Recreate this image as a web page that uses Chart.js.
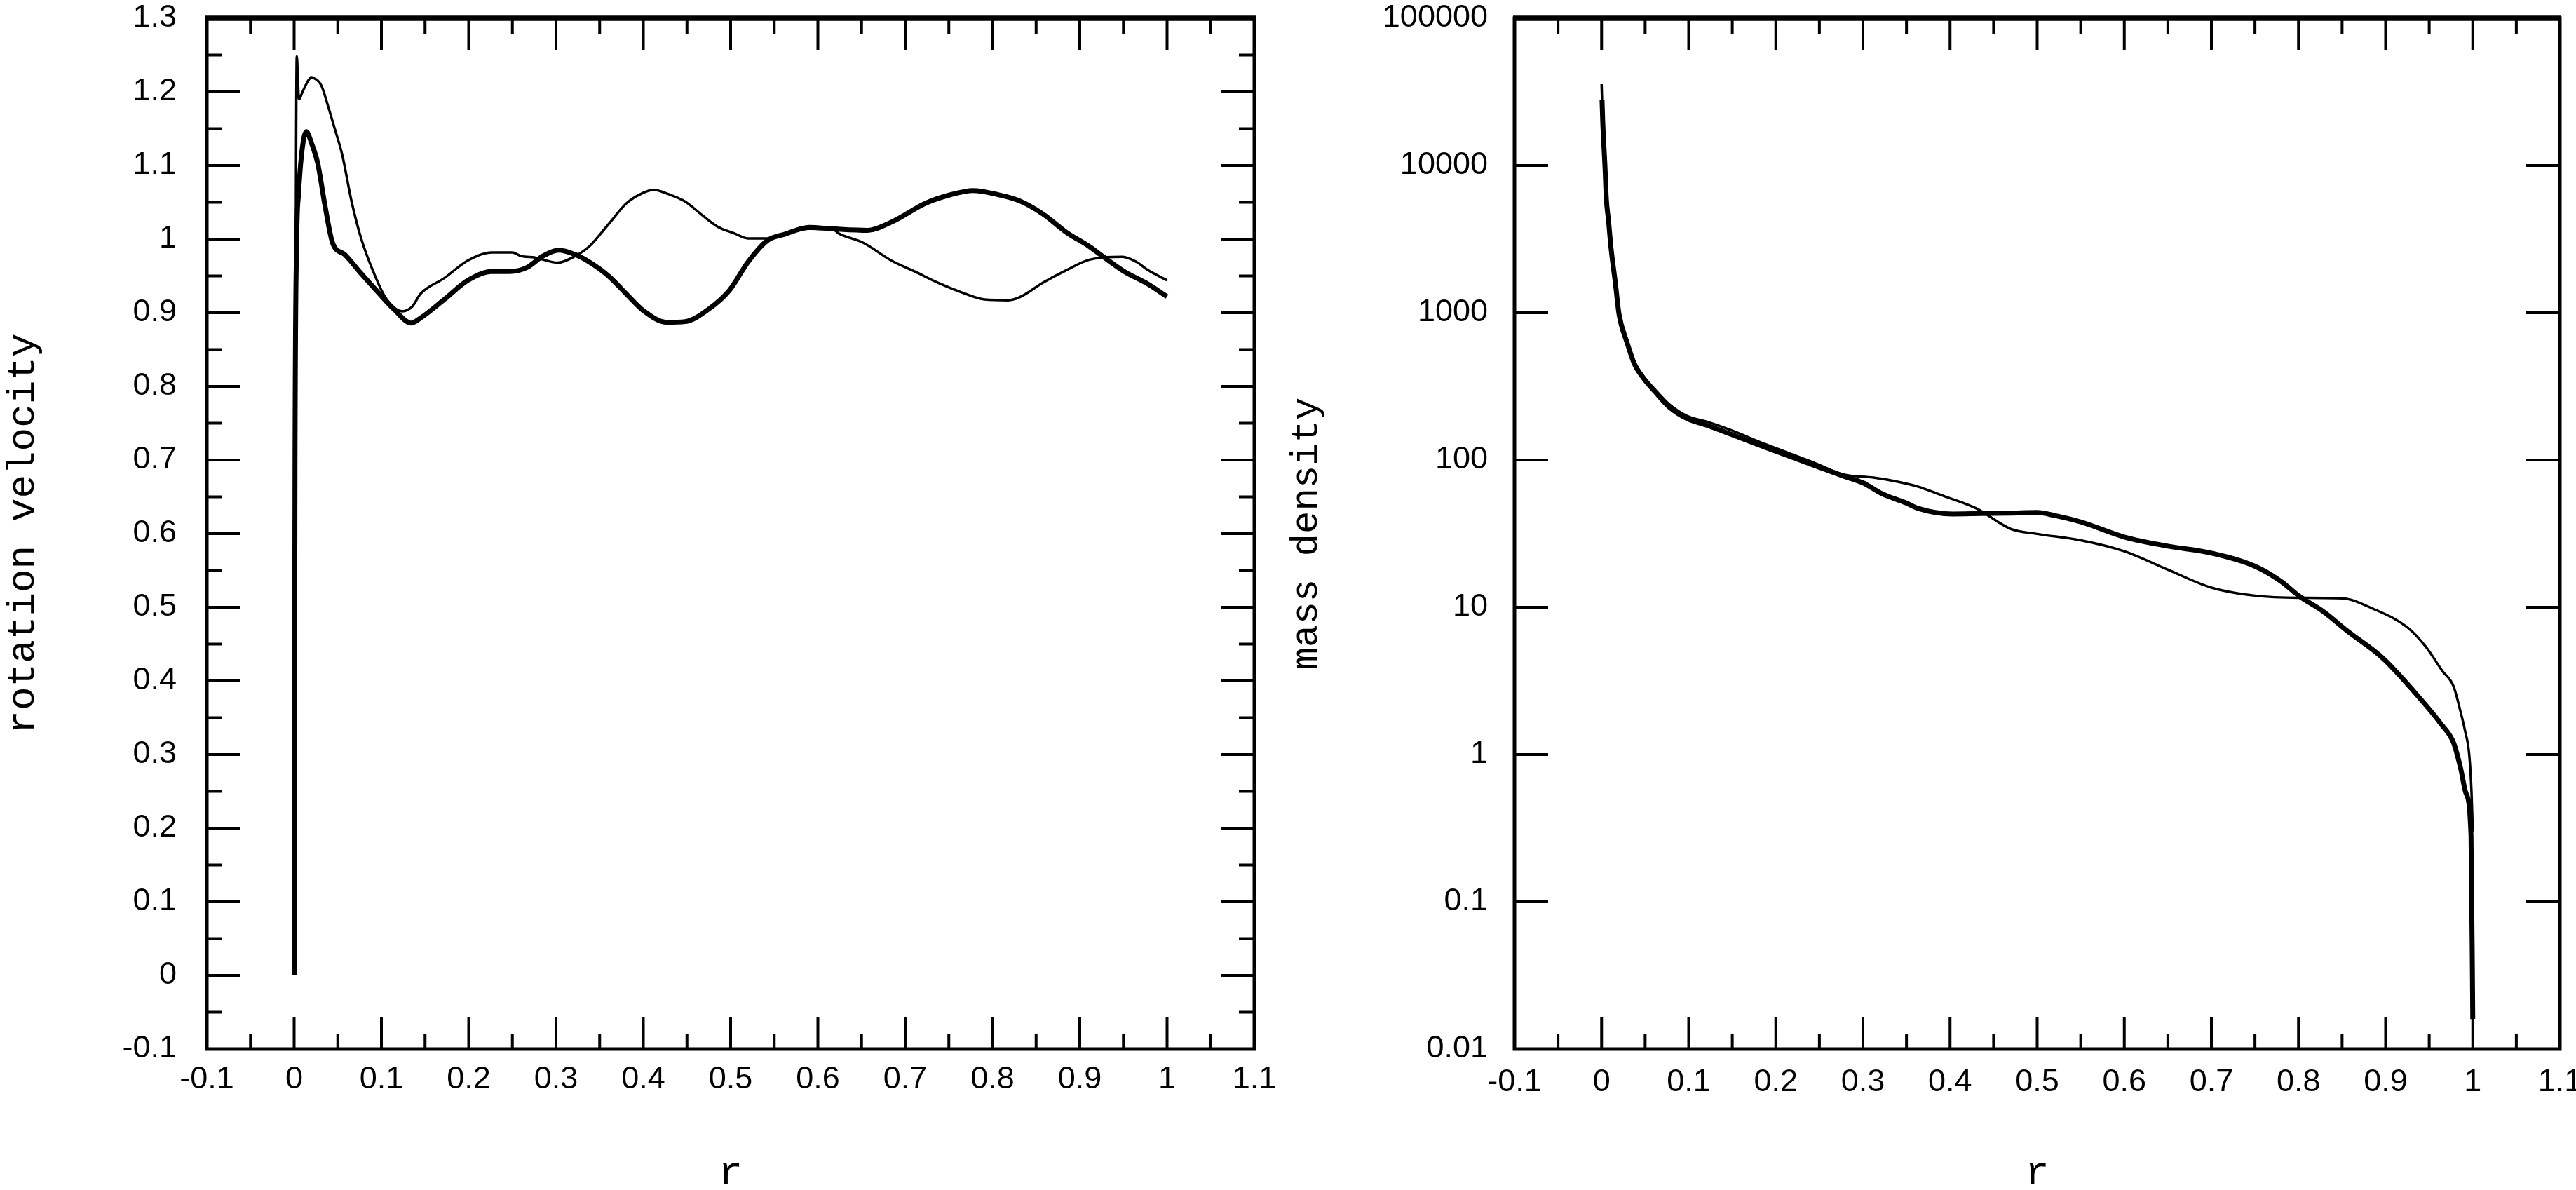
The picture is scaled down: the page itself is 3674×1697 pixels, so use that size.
<!DOCTYPE html>
<html>
<head>
<meta charset="utf-8">
<title>rotation velocity / mass density</title>
<script src="https://cdn.jsdelivr.net/npm/chart.js@4.4.1/dist/chart.umd.min.js"></script>
<style>
  html, body { margin: 0; padding: 0; background: #fff; }
  .panel { position: absolute; top: 0; width: 1837px; height: 1697px; }
  #left { left: 0; }
  #right { left: 1837px; }
</style>
</head>
<body>
<div class="panel" id="left"><canvas id="velocity" width="1837" height="1697"></canvas></div>
<div class="panel" id="right"><canvas id="density" width="1837" height="1697"></canvas></div>
<script>
// shared r axis
const xTicks = [-0.1, 0, 0.1, 0.2, 0.3, 0.4, 0.5, 0.6, 0.7, 0.8, 0.9, 1, 1.1];
const xTickLabels = ['-0.1', '0', '0.1', '0.2', '0.3', '0.4', '0.5', '0.6', '0.7', '0.8', '0.9', '1', '1.1'];
const xMinorTicks = [-0.05, 0.05, 0.15, 0.25, 0.35, 0.45, 0.55, 0.65, 0.75, 0.85, 0.95, 1.05];

// left panel axis
const velTicks = [-0.1, 0, 0.1, 0.2, 0.3, 0.4, 0.5, 0.6, 0.7, 0.8, 0.9, 1, 1.1, 1.2, 1.3];
const velTickLabels = ['-0.1', '0', '0.1', '0.2', '0.3', '0.4', '0.5', '0.6', '0.7', '0.8', '0.9', '1', '1.1', '1.2', '1.3'];
const velMinorTicks = [-0.05, 0.05, 0.15, 0.25, 0.35, 0.45, 0.55, 0.65, 0.75, 0.85, 0.95, 1.05, 1.15, 1.25];

// right panel axis
const denTicks = [0.01, 0.1, 1, 10, 100, 1000, 10000, 100000];
const denTickLabels = ['0.01', '0.1', '1', '10', '100', '1000', '10000', '100000'];

// rotation velocity, thin curve
const rVelThin = [0, 0.003, 0.0056, 0.0096, 0.0196, 0.031, 0.039, 0.047, 0.055, 0.066, 0.077, 0.091, 0.105, 0.124, 0.135,
  0.145, 0.172, 0.199, 0.226, 0.25, 0.26, 0.276, 0.302, 0.322, 0.338, 0.36, 0.381, 0.40, 0.412, 0.429, 0.448, 0.467,
  0.485, 0.504, 0.52, 0.542, 0.56, 0.59, 0.617, 0.625, 0.652, 0.684, 0.711, 0.737, 0.764, 0.791, 0.818, 0.831, 0.858,
  0.885, 0.911, 0.949, 0.965, 0.978, 1.0];
const velThin = [0, 1.248, 1.19, 1.20, 1.219, 1.209, 1.180, 1.148, 1.115, 1.05, 1.00, 0.955, 0.92, 0.902, 0.908,
  0.926, 0.947, 0.971, 0.982, 0.982, 0.977, 0.975, 0.968, 0.977, 0.990, 1.020, 1.049, 1.063, 1.067, 1.061, 1.051, 1.033,
  1.017, 1.008, 1.001, 1.001, 1.006, 1.014, 1.013, 1.007, 0.995, 0.971, 0.956, 0.941, 0.928, 0.918, 0.917, 0.921, 0.941,
  0.958, 0.972, 0.976, 0.969, 0.958, 0.944];

// rotation velocity, thick curve
const rVelThick = [0, 0.001, 0.003, 0.005, 0.009, 0.014, 0.020, 0.027, 0.036, 0.044, 0.058, 0.077, 0.096, 0.115, 0.134,
  0.145, 0.172, 0.199, 0.226, 0.247, 0.266, 0.285, 0.303, 0.322, 0.338, 0.36, 0.381, 0.40, 0.427, 0.448, 0.475, 0.499,
  0.52, 0.542, 0.563, 0.59, 0.617, 0.657, 0.684, 0.724, 0.751, 0.778, 0.804, 0.831, 0.858, 0.885, 0.911, 0.927, 0.951,
  0.978, 1.0];
const velThick = [0, 0.70, 1.0, 1.06, 1.12, 1.146, 1.13, 1.103, 1.041, 0.995, 0.979, 0.953, 0.928, 0.904, 0.886,
  0.893, 0.918, 0.944, 0.956, 0.956, 0.961, 0.977, 0.985, 0.979, 0.969, 0.950, 0.925, 0.903, 0.887, 0.888, 0.905, 0.931,
  0.969, 0.998, 1.007, 1.016, 1.014, 1.012, 1.023, 1.049, 1.060, 1.066, 1.061, 1.052, 1.034, 1.009, 0.990, 0.976, 0.956,
  0.939, 0.922];

// mass density, thin curve
const rDenThin = [0, 0.0013, 0.004, 0.0054, 0.008, 0.0107, 0.016, 0.020, 0.0295, 0.0376, 0.048, 0.062, 0.078, 0.099,
  0.121, 0.148, 0.188, 0.242, 0.277, 0.312, 0.336, 0.363, 0.389, 0.43, 0.47, 0.5, 0.55, 0.6, 0.65, 0.7, 0.75, 0.8, 0.85,
  0.885, 0.925, 0.946, 0.965, 0.978, 0.986, 0.991, 0.996, 0.9986, 1.0];
const denThin = [35700, 20000, 10500, 6400, 4400, 2950, 1620, 1030, 650, 470, 372, 298, 238, 198,
  182, 160, 128, 97, 80, 76, 72, 66, 58, 47, 34, 31.5, 28.5, 24, 18, 13.6, 12, 11.6, 11.5,
  9.8, 7.3, 5.4, 3.7, 2.9, 1.95, 1.46, 0.99, 0.55, 0.3];

// mass density, thick curve
const rDenThick = [0.0005, 0.0013, 0.004, 0.0054, 0.008, 0.0107, 0.016, 0.020, 0.0295, 0.0376, 0.048, 0.062, 0.078,
  0.099, 0.121, 0.148, 0.188, 0.242, 0.277, 0.3, 0.322, 0.35, 0.363, 0.403, 0.435, 0.47, 0.5, 0.52, 0.55, 0.6, 0.65, 0.7,
  0.75, 0.78, 0.8, 0.829, 0.856, 0.897, 0.937, 0.964, 0.978, 0.986, 0.992, 0.998, 1.0];
const denThick = [28000, 20000, 9500, 6000, 4200, 2800, 1560, 980, 620, 450, 360, 288, 228,
  190, 172, 150, 122, 93, 78, 70, 59, 51, 47, 43, 43.3, 43.6, 44, 42, 38, 30, 26, 23.3,
  19, 15, 12, 9.3, 6.9, 4.5, 2.5, 1.6, 1.2, 0.81, 0.55, 0.28, 0.016];

const H = 1697;
const PLOT_TOP = 26, PLOT_BOTTOM = 1496;
const tickFont = { family: 'Liberation Sans', size: 45 };

function points(xs, ys) {
  return xs.map((x, i) => ({ x: x, y: ys[i] }));
}

function curve(data, width) {
  return {
    data: data,
    showLine: true,
    borderColor: '#000',
    borderWidth: width,
    pointRadius: 0,
    cubicInterpolationMode: 'monotone',
    borderJoinStyle: 'round'
  };
}

// frame plus inward ticks on all four sides
const frameTicks = {
  id: 'frameTicks',
  afterDatasetsDraw(chart, args, opts) {
    const { ctx, chartArea: a, scales: { x, y } } = chart;
    ctx.save();
    ctx.strokeStyle = '#000';
    ctx.lineWidth = 4;
    const marks = [[xTicks, 45], [xMinorTicks, 22]];
    marks.forEach(([vals, len]) => {
      vals.forEach(v => {
        const px = x.getPixelForValue(v);
        ctx.beginPath();
        ctx.moveTo(px, a.bottom); ctx.lineTo(px, a.bottom - len);
        ctx.moveTo(px, a.top); ctx.lineTo(px, a.top + len);
        ctx.stroke();
      });
    });
    [[opts.yMajor, 48], [opts.yMinor || [], 22]].forEach(([vals, len]) => {
      vals.forEach(v => {
        const py = y.getPixelForValue(v);
        ctx.beginPath();
        ctx.moveTo(a.left, py); ctx.lineTo(a.left + len, py);
        ctx.moveTo(a.right, py); ctx.lineTo(a.right - len, py);
        ctx.stroke();
      });
    });
    ctx.lineWidth = 5;
    ctx.strokeRect(a.left, a.top, a.right - a.left, a.bottom - a.top);
    ctx.lineWidth = 7.5;
    ctx.beginPath();
    ctx.moveTo(a.left - 2, a.top); ctx.lineTo(a.right + 2, a.top);
    ctx.stroke();
    ctx.restore();
  }
};

function noPad(s) {
  s.paddingLeft = 0; s.paddingRight = 0; s.paddingTop = 0; s.paddingBottom = 0;
}

function xScale(labelPad) {
  return {
    type: 'linear',
    min: -0.1,
    max: 1.1,
    afterBuildTicks: s => { s.ticks = xTicks.map(v => ({ value: v })); },
    afterFit: s => { s.height = H - PLOT_BOTTOM; noPad(s); },
    grid: { display: false, drawTicks: false },
    border: { display: false },
    ticks: {
      autoSkip: false, maxRotation: 0, padding: labelPad, color: '#000', font: tickFont,
      callback: (v, i) => xTickLabels[i]
    },
    title: {
      display: true, text: 'r', color: '#000', padding: 0,
      font: { family: 'Liberation Mono', size: 58, lineHeight: 0.8 }
    }
  };
}

function baseOptions(padRight, yScale, plugOpts) {
  return {
    responsive: false,
    animation: false,
    devicePixelRatio: 1,
    layout: { padding: { left: 0, top: PLOT_TOP, right: padRight, bottom: 0 } },
    plugins: { legend: { display: false }, tooltip: { enabled: false }, frameTicks: plugOpts },
    scales: { x: xScale(padRight > 30 ? 17 : 21), y: yScale }
  };
}

// left: rotation velocity
new Chart(document.getElementById('velocity'), {
  type: 'scatter',
  data: {
    datasets: [
      curve(points(rVelThin, velThin), 3.5),
      curve(points(rVelThick, velThick), 7)
    ]
  },
  options: baseOptions(1837 - 1789, {
    type: 'linear',
    min: -0.1,
    max: 1.3,
    afterBuildTicks: s => { s.ticks = velTicks.map(v => ({ value: v })); },
    afterFit: s => { s.width = 295; noPad(s); },
    grid: { display: false, drawTicks: false },
    border: { display: false },
    ticks: {
      autoSkip: false, padding: 43, color: '#000', font: tickFont,
      callback: (v, i) => velTickLabels[i]
    },
    title: {
      display: true, text: 'rotation velocity', color: '#000', padding: 0,
      font: { family: 'Liberation Mono', size: 56, lineHeight: 1.2 }
    }
  }, { yMajor: velTicks, yMinor: velMinorTicks }),
  plugins: [frameTicks]
});

// right: mass density (log)
new Chart(document.getElementById('density'), {
  type: 'scatter',
  data: {
    datasets: [
      curve(points(rDenThin, denThin), 3.5),
      curve(points(rDenThick, denThick), 7)
    ]
  },
  options: baseOptions(1837 - 1814, {
    type: 'logarithmic',
    min: 0.01,
    max: 100000,
    afterBuildTicks: s => { s.ticks = denTicks.map(v => ({ value: v })); },
    afterFit: s => { s.width = 323; noPad(s); },
    grid: { display: false, drawTicks: false },
    border: { display: false },
    ticks: {
      autoSkip: false, padding: 38, color: '#000', font: tickFont,
      callback: (v, i) => denTickLabels[i]
    },
    title: {
      display: true, text: 'mass density', color: '#000', padding: 0,
      font: { family: 'Liberation Mono', size: 54, lineHeight: 1.0 }
    }
  }, { yMajor: denTicks }),
  plugins: [frameTicks]
});
</script>
</body>
</html>
